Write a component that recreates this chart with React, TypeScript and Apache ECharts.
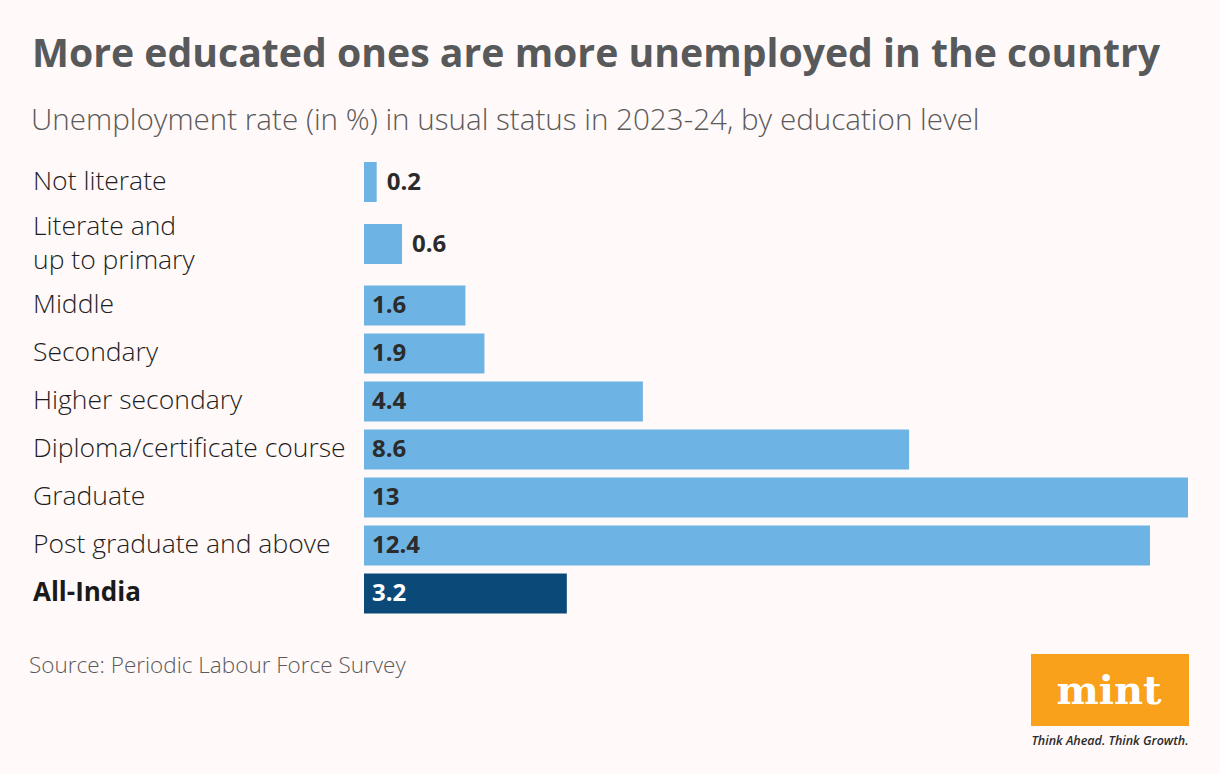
import React, { useEffect, useRef } from "react";
import * as echarts from "echarts";

const titleText = "More educated ones are more unemployed in the country";
const subtitleText = "Unemployment rate (in %) in usual status in 2023-24, by education level";
const sourceText = "Source: Periodic Labour Force Survey";

const categories = [
  "Not literate",
  "Literate and\nup to primary",
  "Middle",
  "Secondary",
  "Higher secondary",
  "Diploma/certificate course",
  "Graduate",
  "Post graduate and above",
  "All-India",
];
const values = [0.2, 0.6, 1.6, 1.9, 4.4, 8.6, 13, 12.4, 3.2];
const highlight = "All-India";
const splitIndex = 2; // first rows are spaced wider

const LIGHT = "#6db3e3";
const DARK = "#0b4a78";
const BG = "#fff9f9";

function makeData(cats: string[], vals: number[]) {
  return vals.map((v, i) => {
    const isHi = cats[i] === highlight;
    const small = v < 1;
    return {
      value: v,
      itemStyle: { color: isHi ? DARK : LIGHT },
      label: {
        position: small ? "right" : "insideLeft",
        distance: small ? 10 : 8,
        color: isHi ? "#ffffff" : "#2b2b2b",
      },
    };
  });
}

export default function App() {
  const ref = useRef<HTMLDivElement>(null);
  useEffect(() => {
    if (!ref.current) return;
    const chart = echarts.init(ref.current, null, { renderer: "svg" });
    const catsA = categories.slice(0, splitIndex);
    const catsB = categories.slice(splitIndex);
    const valsA = values.slice(0, splitIndex);
    const valsB = values.slice(splitIndex);

    const yAxisCommon = {
      type: "category" as const,
      inverse: true,
      axisLine: { show: false },
      axisTick: { show: false },
      axisLabel: {
        align: "left" as const,
        margin: 331,
        fontFamily: "Open Sans",
        fontWeight: 300,
        fontSize: 26.5,
        lineHeight: 34,
        padding: [0, 0, 5, 0],
        color: "#1e1e1e",
        formatter: (v: string) => (v === highlight ? `{b|${v}}` : v),
        rich: {
          b: {
            fontFamily: "Open Sans",
            fontWeight: 700,
            fontSize: 26,
            color: "#1a1a1a",
          },
        },
      },
    };
    const xAxisCommon = {
      type: "value" as const,
      min: 0,
      max: 13,
      show: false,
    };
    const labelCommon = {
      show: true,
      fontFamily: "Open Sans",
      fontWeight: 700,
      fontSize: 24,
      offset: [0, -2],
    };

    chart.setOption({
      animation: false,
      backgroundColor: BG,
      title: [
        {
          text: titleText,
          left: 27,
          top: 27,
          textStyle: {
            fontFamily: "Open Sans",
            fontWeight: 700,
            fontSize: 39.2,
            color: "#58595b",
          },
        },
        {
          text: subtitleText,
          left: 26,
          top: 98,
          textStyle: {
            fontFamily: "Open Sans",
            fontWeight: 300,
            fontSize: 29.6,
            color: "#5a5a5a",
          },
        },
      ],
      grid: [
        { left: 364, right: 32, top: 151, height: 124 },
        { left: 364, right: 32, top: 281.5, height: 336 },
      ],
      xAxis: [
        { ...xAxisCommon, gridIndex: 0 },
        { ...xAxisCommon, gridIndex: 1 },
      ],
      yAxis: [
        { ...yAxisCommon, gridIndex: 0, data: catsA },
        { ...yAxisCommon, gridIndex: 1, data: catsB },
      ],
      series: [
        {
          type: "bar",
          xAxisIndex: 0,
          yAxisIndex: 0,
          barWidth: 40,
          data: makeData(catsA, valsA),
          label: labelCommon,
        },
        {
          type: "bar",
          xAxisIndex: 1,
          yAxisIndex: 1,
          barWidth: 40,
          data: makeData(catsB, valsB),
          label: labelCommon,
        },
      ],
      graphic: [
        {
          type: "text",
          left: 29,
          top: 653,
          style: {
            text: sourceText,
            fontFamily: "Open Sans",
            fontWeight: 300,
            fontSize: 22.5,
            fill: "#5a5a5a",
          },
        },
        {
          type: "rect",
          shape: { x: 1031, y: 654, width: 158, height: 72 },
          style: { fill: "#f9a11b" },
        },
        {
          type: "text",
          x: 1109,
          y: 689,
          style: {
            text: "mint",
            fontFamily: "DejaVu Serif",
            fontWeight: 700,
            fontSize: 40,
            fill: "#ffffff",
            align: "center",
            verticalAlign: "middle",
          },
        },
        {
          type: "text",
          x: 1110,
          y: 740,
          style: {
            text: "Think Ahead. Think Growth.",
            fontFamily: "Open Sans",
            fontStyle: "italic",
            fontWeight: 600,
            fontSize: 12.5,
            fill: "#2b2b2b",
            align: "center",
            verticalAlign: "middle",
          },
        },
      ],
    });
    return () => chart.dispose();
  }, []);

  return (
    <div
      ref={ref}
      style={{ position: "fixed", left: 0, top: 0, width: 1220, height: 774 }}
    />
  );
}
